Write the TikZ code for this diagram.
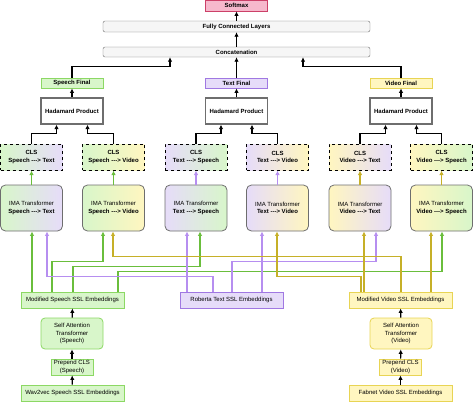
\documentclass[tikz,border=0pt]{standalone}
\usepackage{fontspec}
\setmainfont{Liberation Sans}
\usetikzlibrary{arrows.meta}
\usetikzlibrary{positioning}
\usetikzlibrary{calc}

\definecolor{sline}{RGB}{106,190,60}
\definecolor{sfill}{RGB}{216,246,202}
\definecolor{sdraw}{RGB}{140,216,100}
\definecolor{tline}{RGB}{182,142,240}
\definecolor{tfill}{RGB}{230,220,249}
\definecolor{tdraw}{RGB}{160,120,226}
\definecolor{vline}{RGB}{198,176,40}
\definecolor{vfill}{RGB}{255,246,192}
\definecolor{vdraw}{RGB}{232,212,84}
\definecolor{pfill}{RGB}{246,184,204}
\definecolor{pdraw}{RGB}{204,64,104}
\definecolor{gfill}{RGB}{246,246,246}
\definecolor{gdraw}{RGB}{110,110,110}

\begin{document}
\begin{tikzpicture}[
      x = 1pt, y = -1pt,
      >={Latex[length=4.5pt,width=4.5pt]},
      font = \fontsize{6}{7.4}\selectfont,
      box/.style = {
        draw, inner sep = 0pt, align = center, text = black,
        minimum width = 62pt, minimum height = 10pt
      },
      topbox/.style = { box, draw = gdraw, fill = gfill, rounded corners = 2pt,
        font = \fontsize{6}{7.4}\selectfont\bfseries },
      final/.style = { box, line width = .8pt, font = \fontsize{6}{7.4}\selectfont\bfseries },
      hadamard/.style = { box, draw = gdraw, line width = 1.3pt, fill = white,
        minimum height = 26pt, font = \fontsize{6}{7.4}\selectfont\bfseries },
      clsbox/.style = { box, dashed, line width = 1pt, minimum height = 26pt,
        font = \fontsize{6}{7.4}\selectfont\bfseries },
      imabox/.style = { box, draw = gdraw, line width = .8pt, rounded corners = 5pt,
        minimum height = 46pt },
      embed/.style = { box, line width = .8pt, minimum width = 103pt,
        minimum height = 16pt },
      link/.style = { line width = 1.2pt, -> },
    ]

    \useasboundingbox (0,0) rectangle (474,402);

    % head of the network
    \node[box, draw = pdraw, fill = pfill, line width = .8pt, minimum height = 10.5pt,
      font = \fontsize{6}{7.4}\selectfont\bfseries] (softmax) at (236.5,5.75) {Softmax};
    \node[topbox, minimum width = 267pt, minimum height = 11pt] (fcl) at (236.5,26.5) {Fully Connected Layers};
    \node[topbox, minimum width = 267pt] (concat) at (236.5,52) {Concatenation};

    \node[final, draw = sdraw, fill = sfill] (sfinal) at (72,83) {Speech Final};
    \node[final, draw = tdraw, fill = tfill] (tfinal) at (236.5,83) {Text Final};
    \node[final, draw = vdraw, fill = vfill] (vfinal) at (401,83) {Video Final};

    \node[hadamard] (had1) at (72,111) {Hadamard Product};
    \node[hadamard] (had2) at (236.5,111) {Hadamard Product};
    \node[hadamard] (had3) at (401,111) {Hadamard Product};

    \draw[link] (fcl) to (softmax);
    \draw[link] (concat) to (fcl);
    \draw[link] (tfinal) to (concat);
    \draw[link] (sfinal.north) -- ++(0,-11) -| ([xshift=-66.5]concat.south);
    \draw[link] (vfinal.north) -- ++(0,-11) -| ([xshift=66.5]concat.south);
    \foreach \n in {1, 2, 3} {
      \draw[link] (had\n) to (\ifcase\n\or sfinal\or tfinal\or vfinal\fi);
    }

    % cross attention pairs
    \foreach \i/\x/\ca/\cb/\lc/\txt in {
        1/31.5/sfill/tfill/sline/Speech -{}-{}-> Text,
        2/113.5/sfill/vfill/sline/Speech -{}-{}-> Video,
        3/196/tfill/sfill/tline/Text -{}-{}-> Speech,
        4/277.5/tfill/vfill/tline/Text -{}-{}-> Video,
        5/360/vfill/tfill/vline/Video -{}-{}-> Text,
        6/441.5/vfill/sfill/vline/Video -{}-{}-> Speech} {
      \node[clsbox, left color = \ca, right color = \cb] (cls\i) at (\x,157) {CLS\\\txt};
      \node[imabox, left color = \ca, right color = \cb] (ima\i) at (\x,208) {IMA Transformer\\\textbf{\txt}};
      \draw[link, \lc] (ima\i) to (cls\i);
    }

    \foreach \c/\h/\d in {1/1/-15.5, 2/1/15.5, 3/2/-15.5, 4/2/15.5, 5/3/-15.5, 6/3/15.5} {
      \draw[link] (cls\c.north) -- ++(0,-10) -| ([xshift=\d]had\h.south);
    }

    % embeddings
    \node[embed, draw = sdraw, fill = sfill] (mse) at (72.5,300) {Modified Speech SSL Embeddings};
    \node[embed, draw = tdraw, fill = tfill] (rob) at (231.5,300) {Roberta Text SSL Embeddings};
    \node[embed, draw = vdraw, fill = vfill] (mve) at (400.5,300) {Modified Video SSL Embeddings};

    \node[box, draw = sdraw, fill = sfill, line width = .8pt, rounded corners = 4pt, minimum height = 31pt] (sats) at (72,333.5) {Self Attention\\Transformer\\(Speech)};
    \node[box, draw = vdraw, fill = vfill, line width = .8pt, rounded corners = 4pt, minimum height = 31pt] (satv) at (401,333.5) {Self Attention\\Transformer\\(Video)};
    \node[box, draw = sdraw, fill = sfill, line width = .8pt, minimum width = 42pt, minimum height = 16pt] (pres) at (72,367) {Prepend CLS\\(Speech)};
    \node[box, draw = vdraw, fill = vfill, line width = .8pt, minimum width = 42pt, minimum height = 16pt] (prev) at (400.5,367) {Prepend CLS\\(Video)};
    \node[embed, draw = sdraw, fill = sfill] (wav) at (72.5,393) {Wav2vec Speech SSL Embeddings};
    \node[embed, draw = vdraw, fill = vfill] (fab) at (400.5,393) {Fabnet Video SSL Embeddings};

    \foreach \a/\b in {wav/pres, pres/sats, sats/mse, fab/prev, prev/satv, satv/mve} {
      \draw[link] (\a) to (\b);
    }

    % routing into the transformers
    \foreach \s/\ds/\lv/\t/\dt in {
        mse/-40.5/-15/ima1/0.5,
        mse/-20.5/-30/ima2/-10.5,
        mse/0.5/-25/ima3/4,
        mse/45.5/-20/ima6/0.5} {
      \draw[link, sline] ([xshift=\ds]\s.north) -- ++(0,\lv) -| ([xshift=\dt]\t.south);
    }
    \foreach \s/\ds/\lv/\t/\dt in {
        rob/-44.5/-15/ima3/-9,
        rob/-18.5/-15/ima1/15.5,
        rob/0.5/-30/ima5/16,
        rob/30.5/-15/ima4/-15.5} {
      \draw[link, tline] ([xshift=\ds]\s.north) -- ++(0,\lv) -| ([xshift=\dt]\t.south);
    }
    \foreach \s/\ds/\lv/\t/\dt in {
        mve/0.5/-35/ima2/-0.5,
        mve/-39.5/-15/ima4/-0.5,
        mve/-36.5/-15/ima5/4,
        mve/30.5/-15/ima6/-10.5} {
      \draw[link, vline] ([xshift=\ds]\s.north) -- ++(0,\lv) -| ([xshift=\dt]\t.south);
    }
  \end{tikzpicture}
\end{document}
